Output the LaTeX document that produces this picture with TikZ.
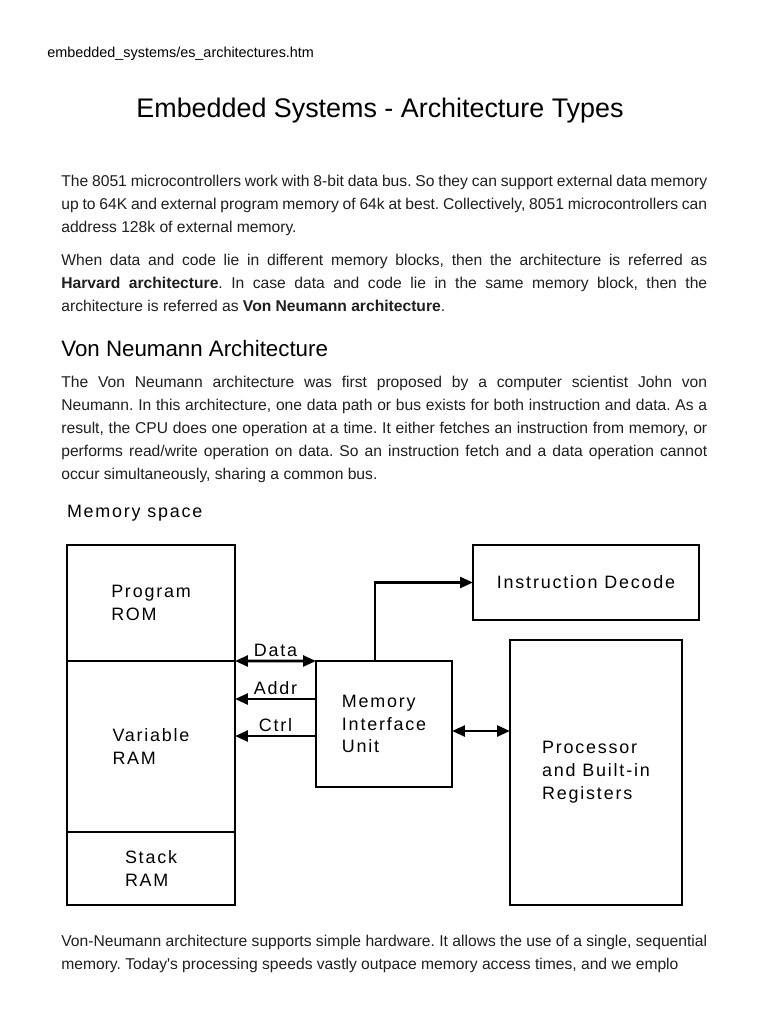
\documentclass[tikz,border=0pt]{standalone}
\usepackage{fontspec}
\setmainfont{Liberation Sans}
\newfontfamily\diagfont[LetterSpace=10]{Liberation Sans}
\usetikzlibrary{positioning,arrows.meta,calc}
\hyphenpenalty=10000
\exhyphenpenalty=10000
\frenchspacing

\begin{document}
\begin{tikzpicture}[
    x=0.02cm, y=-0.02cm,
    para/.style={anchor=north west, inner sep=0, text width=12.92cm, align=justify, text=black!88, font=\fontsize{8.9}{13.04}\selectfont},
    block/.style={inner sep=0, outer sep=0, align=left, font=\diagfont\fontsize{10.2}{13}\selectfont},
    box/.style={block, draw, line width=1.6pt},
    lbl/.style={above, inner sep=1.8pt, font=\diagfont\fontsize{10.2}{13}\selectfont},
    arrow/.style={-{Triangle[length=7.4pt,width=6.2pt]}, line width=1.6pt},
    bidir/.style={{Triangle[length=7.4pt,width=6.2pt]}-{Triangle[length=7.4pt,width=6.2pt]}, line width=1.6pt}
]
\fill[white] (0,0) rectangle (768,1024);
\useasboundingbox (0,0) rectangle (768,1024);

% page text
\node[anchor=base west, inner sep=0, font=\fontsize{8.2}{10}\selectfont] (url) at (47,58) {embedded\_systems/es\_architectures.htm};
\node[anchor=base, inner sep=0, font=\fontsize{15.3}{18}\selectfont] (title) at (380,117) {Embedded Systems - Architecture Types};

\node[para] (intro) at (61,175) {The 8051 microcontrollers work with 8-bit data bus. So they can support external data memory\linebreak
up to 64K and external program memory of 64k at best. Collectively, 8051 microcontrollers can\linebreak
address 128k of external memory.};
\node[para] (blocks) at (61,254) {When data and code lie in different memory blocks, then the architecture is referred as\linebreak
\textbf{Harvard architecture}. In case data and code lie in the same memory block, then the\linebreak
architecture is referred as \textbf{Von Neumann architecture}.};

\node[anchor=base west, inner sep=0, font=\fontsize{12.7}{15}\selectfont] (heading) at (61,356) {Von Neumann Architecture};
\node[para] (vonneu) at (61,376) {The Von Neumann architecture was first proposed by a computer scientist John von\linebreak
Neumann. In this architecture, one data path or bus exists for both instruction and data. As a\linebreak
result, the CPU does one operation at a time. It either fetches an instruction from memory, or\linebreak
performs read/write operation on data. So an instruction fetch and a data operation cannot\linebreak
occur simultaneously, sharing a common bus.};

% diagram
\node[block, anchor=base west] (space) at (67,517) {Memory space};

\node[block, minimum width=3.36cm, minimum height=2.32cm] (rom) at (151,603) {Program\\ROM};
\node[block, minimum width=3.36cm, minimum height=3.42cm] (var) at (151,746.5) {Variable\\RAM};
\node[block, minimum width=3.36cm, minimum height=1.46cm] (stack) at (151,868.5) {Stack\\RAM};
\draw[line width=1.6pt] (rom.north west) rectangle (stack.south east);
\draw[line width=1.6pt] (rom.south west) -- (rom.south east);
\draw[line width=0.8pt] (var.south west) -- (var.south east);

\node[box, minimum width=2.72cm, minimum height=2.52cm] (miu) at (384,724) {Memory\\Interface\\Unit};
\node[box, minimum width=4.52cm, minimum height=1.5cm, align=center] (dec) at (586,582.5) {Instruction Decode};
\node[box, minimum width=3.44cm, minimum height=5.3cm] (proc) at (596,772.5) {Processor\\and Built-in\\Registers};

\coordinate (addr) at ($(miu.north west)+(0,38)$);
\coordinate (ctrl) at ($(miu.north west)+(0,75)$);
\coordinate (fetch) at ($(miu.north west)+(59,0)$);
\coordinate (link) at ($(miu.east)+(0,7)$);

\draw[bidir] (rom.south east) -- node[lbl] {Data} (miu.north west);
\draw[arrow] (addr) -- node[lbl] {Addr} (addr -| var.east);
\draw[arrow] (ctrl) -- node[lbl] {Ctrl} (ctrl -| var.east);
\draw[arrow] (fetch) |- (dec.west);
\draw[bidir] (link) -- (link -| proc.west);

% cut-off last paragraph
\begin{scope}
\clip (0,0) -- (768,0) -- (768,951) -- (677,951) -- (677,1024) -- (0,1024) -- cycle;
\node[para] (hardware) at (61,935) {Von-Neumann architecture supports simple hardware. It allows the use of a single, sequential\linebreak
memory. Today\textquotesingle s processing speeds vastly outpace memory access times, and we employ};
\end{scope}
\end{tikzpicture}
\end{document}
